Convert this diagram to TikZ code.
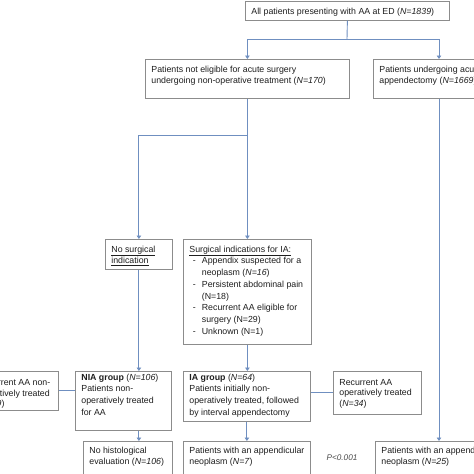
\documentclass[tikz,border=0pt]{standalone}
\usepackage{fontspec}
\setmainfont{Liberation Sans}
\usetikzlibrary{arrows.meta}
\definecolor{boxgray}{HTML}{8C8C8C}
\definecolor{connblue}{HTML}{6F8FC0}
\definecolor{txt}{HTML}{1E1E1E}
\newcommand\boxtxt[4]{\parbox[c][#2][t]{#1}{\vspace*{#3}\raggedright #4}}
\newcommand\itm[1]{\par\hangindent=12.5pt\hangafter=1\noindent\makebox[12.5pt][l]{\hspace{3.5pt}-}#1}
\newcommand\tight{\fontsize{8.8}{10.4}\selectfont}
\tikzset{
  box/.style={draw=boxgray, line width=0.8pt, fill=white, inner xsep=6pt, inner ysep=4pt,
    anchor=north west, text=txt, font=\fontsize{8.8}{11.7}\selectfont},
  conn/.style={draw=connblue, line width=0.9pt},
  tip/.style={-{Triangle[width=4.5pt,length=3.5pt]}},
  pval/.style={text=txt!80, font=\fontsize{8.2}{10}\selectfont\itshape}
}
\begin{document}
\begin{tikzpicture}[x=1pt,y=-1pt]
\useasboundingbox (0,0) rectangle (474,474);
\clip (0,0) rectangle (474,474);
% boxes
\node[box] (top) at (245,0.8) {\boxtxt{192pt}{11pt}{3pt}{All patients presenting with AA at ED (\textit{N=1839})}};
\node[box] (notelig) at (145,59) {\boxtxt{192pt}{31pt}{2.5pt}{Patients not eligible for acute surgery\\undergoing non-operative treatment (\textit{N=170})}};
\node[box] (acute) at (373,59) {\boxtxt{208pt}{31pt}{2.5pt}{Patients undergoing acute\\appendectomy (\textit{N=1669})}};
\node[box] (nosurg) at (105,239) {\boxtxt{55pt}{22pt}{2.5pt}{\underline{No surgical}\\\underline{indication}}};
\node[box] (surgind) at (183,239) {\boxtxt{116pt}{97pt}{2.5pt}{\underline{Surgical indications for IA:}
  \itm{Appendix suspected for a\newline neoplasm (\textit{N=16})}
  \itm{Persistent abdominal pain\newline (N=18)}
  \itm{Recurrent AA eligible for\newline surgery (N=29)}
  \itm{Unknown (N=1)}}};
\node[box] (leftrec) at (-29,371) {\boxtxt{75pt}{31pt}{4.5pt}{\tight Recurrent AA non-\\operatively treated\\(\textit{N=19})}};
\node[box] (NIA) at (75,371) {\boxtxt{84pt}{51pt}{-1.5pt}{\textbf{NIA group} (\textit{N=106})\\Patients non-\\operatively treated\\for AA}};
\node[box] (IA) at (183,371) {\boxtxt{115pt}{42pt}{-1.5pt}{\textbf{IA group} (\textit{N=64})\\Patients initially non-\\operatively treated, followed\\by interval appendectomy}};
\node[box] (recop) at (333,371) {\boxtxt{76pt}{35pt}{4pt}{\tight Recurrent AA\\operatively treated\\(\textit{N=34})}};
\node[box] (nohist) at (83,441) {\boxtxt{77pt}{37pt}{1.5pt}{No histological\\evaluation (\textit{N=106})}};
\node[box] (neoIA) at (183,441) {\boxtxt{115pt}{37pt}{1.5pt}{Patients with an appendicular\\neoplasm (\textit{N=7})}};
\node[box] (neoAc) at (375,441) {\boxtxt{208pt}{37pt}{1.5pt}{Patients with an appendicular\\neoplasm (\textit{N=25})}};
\node[pval] (p) at (342,458) {P<0.001};
% junctions
\coordinate (j1) at (347,39);
\coordinate (r) at (439,39);
\coordinate (j2) at (247,135);
% connectors
\draw[conn] (top.south) -- (j1);
\draw[conn,tip] (j1) -| (notelig.north);
\draw[conn,tip] (j1) -| (r |- acute.north);
\draw[conn,tip] (notelig.south) -- (surgind.north);
\draw[conn,tip] (j2) -| (nosurg.north);
\draw[conn,tip] (r |- acute.south) -- (r |- neoAc.north);
\draw[conn,tip] (nosurg.south) -- (nosurg.south |- NIA.north);
\draw[conn,tip] (surgind.south) -- (surgind.south |- IA.north);
\draw[conn] (leftrec.east) -- (leftrec.east -| NIA.west);
\draw[conn] (recop.west -| IA.east) -- (recop.west);
\draw[conn,tip] (nosurg.south |- NIA.south) -- (nosurg.south |- nohist.north);
\draw[conn,tip] (IA.south) -- (IA.south |- neoIA.north);
\end{tikzpicture}
\end{document}
